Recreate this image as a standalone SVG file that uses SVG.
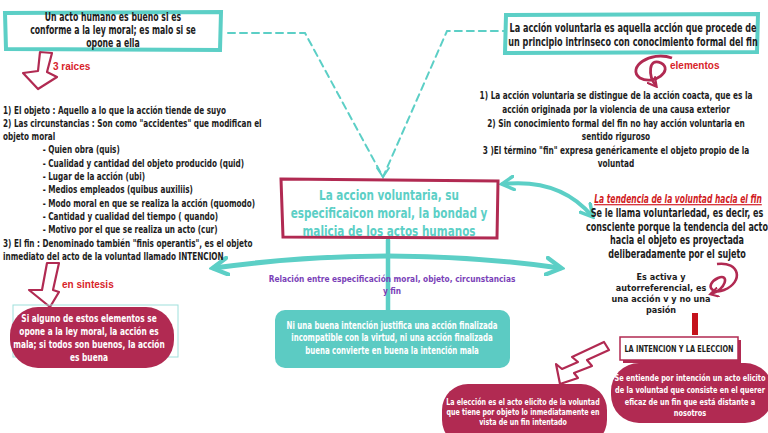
<svg xmlns="http://www.w3.org/2000/svg" width="768" height="433" viewBox="0 0 768 433">
<style>
text{font-family:"DejaVu Sans Condensed","DejaVu Sans","Liberation Sans",sans-serif;font-weight:bold;fill:#1c1c1c}
.c{text-anchor:middle}
.red{font-family:"Liberation Sans",Arial,sans-serif;fill:#d8232a;font-size:10px}
.w{fill:#ffffff}
.teal{fill:none;stroke:#5ccfc6;stroke-linecap:round}
.crim{fill:#ffffff;stroke:#b12a52;stroke-width:2.2;stroke-linejoin:round}
</style>
<defs>
<marker id="chev" viewBox="0 0 12 12" refX="9" refY="6" markerWidth="4" markerHeight="4" orient="auto-start-reverse" markerUnits="strokeWidth">
<path d="M1,1 L10,6 L1,11" fill="none" stroke="#5ccfc6" stroke-width="2.6" stroke-linecap="round"/>
</marker>
<marker id="ch2" viewBox="0 0 12 12" refX="9" refY="6" markerWidth="4" markerHeight="4" orient="auto" markerUnits="strokeWidth">
<path d="M1,1 L10,6 L1,11" fill="none" stroke="#b12a52" stroke-width="2.4" stroke-linecap="round"/>
</marker>
</defs>
<rect width="768" height="433" fill="#ffffff"/>

<g id="connectors">
<path d="M228,33 L305,33 L383,177 L447,31 L505,31" class="teal" stroke-width="2" stroke-dasharray="7,5"/>
<path d="M377,168 L383,177 L389,168" class="teal" stroke-width="2"/>
<path d="M388,240 L388,312" class="teal" stroke-width="4.5"/>
<path d="M214,268 Q388,244 560,268" class="teal" stroke-width="5" marker-start="url(#chev)" marker-end="url(#chev)"/>
<path d="M503,184 Q560,178 592,216" class="teal" stroke-width="4" marker-start="url(#chev)" marker-end="url(#chev)"/>
<polygon points="40,52 52,53 47,72 57,77 38,89 23,73 38,71" class="crim"/>
<polygon points="47,263 59,263 53,290 59,292 50,307 29,290 42,290" class="crim"/>
<path d="M672,58 C650,50 626,68 640,78 C654,86 674,70 661,63 C648,57 648,76 656,86" fill="none" stroke="#b12a52" stroke-width="2.8" marker-end="url(#ch2)"/>
<path d="M717,264 C740,261 744,282 724,290 C712,295 704,285 718,278 C730,273 726,290 711,294" fill="none" stroke="#b12a52" stroke-width="2.6" marker-end="url(#ch2)"/>
<polygon points="604,342 609,350 587,360 592,366 574,373 578,378 560,384 556,364 562,369 578,362 572,357" class="crim"/>
<rect x="692" y="313" width="6" height="22" fill="#c5121c"/>
</g>

<g id="n_top_left">
<path d="M5,13 L221,12 L220,50 L6,49 Z" fill="#ffffff" stroke="#5ccfc6" stroke-width="4"/>
<g transform="translate(113,0) scale(0.72,1)" font-size="12">
<text class="c" x="0" y="21">Un acto humano es bueno si es</text>
<text class="c" x="0" y="34">conforme a la ley moral; es malo si se</text>
<text class="c" x="0" y="47">opone a ella</text>
</g>
</g>

<g id="n_top_right">
<path d="M506,15 L758,14 L757,52 L505,53 Z" fill="#ffffff" stroke="#5ccfc6" stroke-width="4"/>
<g transform="translate(633,0) scale(0.75,1)" font-size="12">
<text class="c" x="0" y="32">La acción voluntaria es aquella acción que procede de</text>
<text class="c" x="0" y="46">un principio intrinseco con conocimiento formal del fin</text>
</g>
</g>

<g id="n_raices">
<text class="red" x="53" y="70">3 raices</text>
</g>
<g id="n_elementos">
<text class="red" x="670" y="69">elementos</text>
</g>
<g id="n_sintesis">
<text class="red" x="62" y="288">en sintesis</text>
</g>

<g id="n_list_left" font-size="10" transform="translate(3,0) scale(0.81,1)">
<text x="0" y="114">1) El objeto : Aquello a lo que la acción tiende de suyo</text>
<text x="0" y="127">2) Las circunstancias : Son como "accidentes" que modifican el</text>
<text x="0" y="140">objeto moral</text>
<text x="49" y="153">- Quien obra (quis)</text>
<text x="49" y="167">- Cualidad y cantidad del objeto producido (quid)</text>
<text x="49" y="180">- Lugar de la acción (ubi)</text>
<text x="49" y="193">- Medios empleados (quibus auxiliis)</text>
<text x="49" y="207">- Modo moral en que se realiza la acción (quomodo)</text>
<text x="49" y="220">- Cantidad y cualidad del tiempo ( quando)</text>
<text x="49" y="233">- Motivo por el que se realiza un acto (cur)</text>
<text x="0" y="247">3) El fin : Denominado también "finis operantis", es el objeto</text>
<text x="0" y="260"> inmediato del acto de la voluntad llamado INTENCION</text>
</g>

<g id="n_list_right" font-size="10.5" transform="translate(616,0) scale(0.78,1)">
<text class="c" x="0" y="99">1) La acción voluntaria se distingue de la acción coacta, que es la</text>
<text class="c" x="0" y="113">acción originada por la violencia de una causa exterior</text>
<text class="c" x="0" y="127">2) Sin conocimiento formal del fin no hay acción voluntaria en</text>
<text class="c" x="0" y="140">sentido riguroso</text>
<text class="c" x="0" y="154">3 )El término "fin" expresa genéricamente el objeto propio de la</text>
<text class="c" x="0" y="167">voluntad</text>
</g>

<g id="n_center">
<path d="M281,179 L498,181 L497,238 L283,237 Z" fill="#ffffff" stroke="#b12a52" stroke-width="3"/>
<g transform="translate(389,0) scale(0.8,1)" font-size="14.5">
<text class="c" x="0" y="200" style="fill:#5ccfc6">La accion voluntaria, su</text>
<text class="c" x="0" y="218" style="fill:#5ccfc6">especificaicon moral, la bondad y</text>
<text class="c" x="0" y="236" style="fill:#5ccfc6">malicia de los actos humanos</text>
</g>
</g>

<g id="n_relacion" font-size="9.5" transform="translate(392,0) scale(0.87,1)">
<text class="c" x="0" y="282" style="fill:#7a3fb8">Relación entre especificación moral, objeto, circunstancias</text>
<text class="c" x="0" y="294" style="fill:#7a3fb8">y fin</text>
</g>

<g id="n_ni_una">
<rect x="275" y="310" width="235" height="58" rx="10" fill="#5ccbc3"/>
<g transform="translate(392,0) scale(0.78,1)" font-size="10">
<text class="c w" x="0" y="329">Ni una buena intención justifica  una acción finalizada</text>
<text class="c w" x="0" y="341">incompatible con la virtud, ni una acción finalizada</text>
<text class="c w" x="0" y="354">buena convierte en buena la intención mala</text>
</g>
</g>

<g id="n_si_alguno">
<rect x="13" y="305" width="165" height="52" fill="none" stroke="#9fe0dc" stroke-width="1"/>
<rect x="10" y="307" width="164" height="61" rx="28" fill="#b12a52"/>
<g transform="translate(89,0) scale(0.75,1)" font-size="11">
<text class="c w" x="0" y="322">Si alguno de estos elementos se</text>
<text class="c w" x="0" y="335">opone a la ley moral, la acción es</text>
<text class="c w" x="0" y="348">mala; si todos son buenos, la acción</text>
<text class="c w" x="0" y="361">es buena</text>
</g>
</g>

<g id="n_tendencia">
<g transform="translate(678,0) scale(0.73,1)">
<text class="c" x="0" y="203" font-size="11.5" style="fill:#d11a22;font-style:italic;text-decoration:underline">La tendencia de la voluntad hacia el fin</text>
</g>
<g transform="translate(677,0) scale(0.78,1)" font-size="11.5">
<text class="c" x="0" y="217">Se le llama voluntariedad, es decir, es</text>
<text class="c" x="0" y="231">consciente porque la tendencia del acto</text>
<text class="c" x="0" y="244">hacia el objeto es proyectada</text>
<text class="c" x="0" y="258">deliberadamente por el sujeto</text>
</g>
</g>

<g id="n_activa" font-size="9">
<text class="c" x="661" y="280">Es activa y</text>
<text class="c" x="661" y="291">autorreferencial, es</text>
<text class="c" x="661" y="302">una acción v y no una</text>
<text class="c" x="661" y="313">pasión</text>
</g>

<g id="n_intencion_eleccion">
<rect x="623" y="340" width="118" height="23" fill="#b12a52"/>
<rect x="620" y="337" width="118" height="23" fill="#ffffff" stroke="#b12a52" stroke-width="1.5"/>
<g transform="translate(679,0) scale(0.81,1)">
<text class="c" x="0" y="352" font-size="9">LA INTENCION Y LA ELECCION</text>
</g>
</g>

<g id="n_intencion">
<rect x="611" y="363" width="162" height="60" rx="28" fill="#b12a52"/>
<g transform="translate(690,0) scale(0.77,1)" font-size="9.5">
<text class="c w" x="0" y="381">Se entiende por intención un acto elicito</text>
<text class="c w" x="0" y="393">de la voluntad que consiste en el querer</text>
<text class="c w" x="0" y="405">eficaz de un fin que está distante a</text>
<text class="c w" x="0" y="416">nosotros</text>
</g>
</g>

<g id="n_eleccion">
<rect x="442" y="384" width="165" height="62" rx="26" fill="#b12a52"/>
<g transform="translate(523,0) scale(0.78,1)" font-size="9">
<text class="c w" x="0" y="405">La elección es el acto elicito de la voluntad</text>
<text class="c w" x="0" y="415">que tiene por objeto lo inmediatamente en</text>
<text class="c w" x="0" y="425">vista de un fin intentado</text>
</g>
</g>
</svg>
